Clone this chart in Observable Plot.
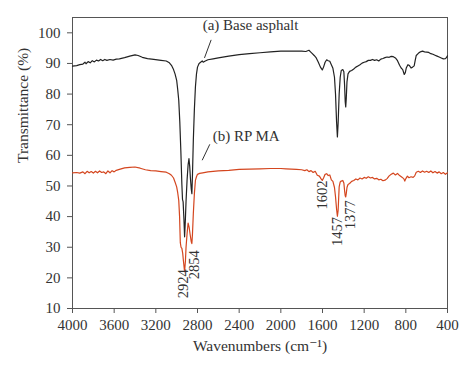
<!DOCTYPE html>
<html><head><meta charset="utf-8">
<script src="https://cdn.jsdelivr.net/npm/d3@7"></script>
<script src="https://cdn.jsdelivr.net/npm/@observablehq/plot@0.6"></script>
<style>body{margin:0;background:#fff}</style>
</head><body><div id="chart"></div>
<script>
// (a) Base asphalt
const wnBase = [4000,3960,3930,3900,3880,3870,3850,3830,3810,3790,3770,3750,3730,3710,3690,3670,3640,3610,3580,3550,3500,3450,3400,3370,3330,3280,3220,3150,3100,3070,3050,3030,3015,3000,2990,2980,2970,2960,2950,2944,2938,2930,2924,2917,2910,2900,2890,2882,2875,2868,2860,2854,2848,2840,2830,2820,2810,2800,2785,2770,2755,2745,2730,2700,2650,2600,2500,2400,2300,2200,2100,2000,1900,1800,1760,1730,1715,1700,1680,1660,1640,1620,1602,1590,1575,1560,1545,1530,1515,1500,1485,1475,1465,1457,1450,1440,1430,1420,1405,1395,1388,1382,1377,1372,1365,1355,1340,1320,1300,1280,1260,1240,1220,1200,1180,1160,1140,1120,1100,1080,1060,1040,1020,1000,980,960,940,920,900,880,860,845,830,815,805,795,780,765,750,735,720,710,700,680,660,640,620,600,580,560,540,520,500,480,460,440,420,410,400];
const tBase = [89.1,89.3,89.6,89.8,90.4,89.9,90.6,90.2,90.9,90.5,91.1,90.8,91.3,90.9,91.3,91.0,91.3,91.1,91.4,91.5,91.9,92.4,92.8,92.6,92.0,91.6,91.3,91.0,90.8,90.2,89.4,88.0,86.5,84.5,81.5,78.0,71.0,61.6,50.5,45.6,44.8,39.0,33.4,38.5,45.0,52.0,57.0,58.9,56.5,52.5,49.0,47.5,54.0,65.0,75.0,82.3,86.5,88.8,90.0,90.4,90.8,90.4,90.7,91.2,91.5,91.8,92.4,92.9,93.2,93.5,93.8,94.0,94.0,94.0,93.9,94.3,93.8,93.3,92.6,91.8,90.4,88.8,87.9,88.8,90.4,91.2,90.9,90.7,89.6,88.4,85.5,80.0,71.0,66.0,70.5,80.0,85.5,87.7,88.0,87.3,83.0,77.5,75.8,78.5,84.0,86.6,87.4,87.7,88.2,88.8,89.2,89.6,90.1,90.4,90.6,91.0,91.0,91.3,91.0,91.2,90.8,91.4,91.6,91.9,92.1,92.0,92.3,92.2,91.8,90.9,89.4,88.5,88.0,86.4,87.0,88.6,89.6,89.3,88.5,88.8,89.2,91.0,92.6,93.3,93.8,94.0,93.8,93.7,93.6,93.2,93.0,92.7,92.4,92.1,91.8,91.5,91.6,91.9,92.5];

// (b) RP MA
const wnRP = [4000,3960,3930,3900,3880,3860,3840,3820,3800,3780,3760,3740,3720,3700,3680,3660,3640,3620,3600,3580,3550,3500,3450,3400,3350,3300,3250,3200,3150,3100,3070,3050,3030,3015,3000,2990,2980,2972,2965,2958,2950,2942,2935,2924,2916,2910,2900,2890,2880,2870,2860,2854,2848,2840,2830,2820,2810,2800,2780,2750,2700,2600,2500,2400,2300,2200,2100,2000,1950,1900,1850,1800,1770,1750,1730,1710,1690,1670,1650,1630,1615,1602,1590,1575,1560,1545,1530,1515,1500,1485,1475,1465,1457,1450,1440,1430,1420,1405,1395,1388,1382,1377,1372,1365,1355,1340,1320,1300,1280,1260,1240,1220,1200,1180,1160,1140,1120,1100,1080,1060,1040,1020,1000,980,960,940,920,900,880,860,840,820,810,800,785,770,750,730,715,700,680,660,640,620,600,580,560,540,520,500,480,460,440,420,400];
const tRP = [54.3,54.4,54.2,54.6,54.0,54.8,54.3,54.7,54.2,54.8,54.3,54.9,54.4,54.6,54.0,54.9,54.3,55.0,54.6,55.1,55.4,55.9,56.1,56.2,55.8,55.3,55.0,54.9,54.7,54.5,54.0,53.5,52.6,51.2,49.7,47.8,45.3,40.0,31.5,30.0,29.6,28.0,25.5,22.0,25.5,30.0,34.5,37.9,36.5,34.0,31.8,31.2,34.5,41.0,47.5,51.8,53.0,53.8,54.1,54.3,54.6,54.9,55.1,55.4,55.5,55.6,55.7,55.7,55.6,55.5,55.4,55.3,55.0,55.3,54.7,55.0,54.4,54.8,53.5,53.2,52.4,51.8,52.6,53.8,54.0,53.4,53.6,52.0,51.5,49.5,46.5,42.5,40.1,42.0,49.7,51.3,51.6,51.8,51.0,48.5,46.8,46.4,47.5,49.5,50.5,50.8,51.5,51.8,52.3,52.0,52.6,52.3,52.8,52.5,53.0,52.6,52.8,52.3,52.5,52.0,52.2,51.7,51.9,52.4,53.3,53.8,54.2,53.6,54.1,53.4,52.9,52.4,51.6,52.4,53.2,52.7,53.0,52.8,53.3,54.5,54.8,54.4,54.9,54.5,54.8,54.4,54.9,54.3,54.7,54.2,54.6,54.0,54.4,53.8,54.3];

const xTicks = [4000,3600,3200,2800,2400,2000,1600,1200,800,400];
const yTicks = [10,20,30,40,50,60,70,80,90,100];

const peakLabels = ["2924","2854","1602","1457","1377"];
const peakX = [2931,2826,1603,1459,1331];
const peakY = [22.8,29,51.8,39.9,45.3];

const seriesNames = ["(a) Base asphalt","(b) RP MA"];
const seriesLabelX = [2291,2333];
const seriesLabelY = [102.4,66.2];
const leaderX1 = [2669,2682], leaderY1 = [97.7,63.6];
const leaderX2 = [2733,2755], leaderY2 = [91.8,58.4];

const base = wnBase.map((w,i)=>({w, t:tBase[i]}));
const rp = wnRP.map((w,i)=>({w, t:tRP[i]}));
const peaks = peakLabels.map((s,i)=>({s, x:peakX[i], y:peakY[i]}));
const names = seriesNames.map((s,i)=>({s, x:seriesLabelX[i], y:seriesLabelY[i]}));
const leaders = leaderX1.map((x1,i)=>({x1, y1:leaderY1[i], x2:leaderX2[i], y2:leaderY2[i]}));

const chart = Plot.plot({
  width:474, height:375,
  marginLeft:72, marginRight:27, marginTop:17, marginBottom:67,
  style:{fontFamily:"'Liberation Serif', 'DejaVu Serif', serif", fontSize:"15px", color:"#333", background:"#fff"},
  x:{domain:[4000,400]},
  y:{domain:[10,105]},
  marks:[
    Plot.frame({stroke:"#555", strokeWidth:1}),
    Plot.line(rp, {x:"w", y:"t", stroke:"#d4461f", strokeWidth:1.2}),
    Plot.line(base, {x:"w", y:"t", stroke:"#222", strokeWidth:1.2}),
    Plot.axisX({ticks:xTicks, tickFormat:d3.format("d"), tickSize:5, tickPadding:6, label:null, stroke:"#555", fontSize:15}),
    Plot.axisY({ticks:yTicks, tickFormat:d3.format("d"), tickSize:5, tickPadding:7, label:null, stroke:"#555", fontSize:15}),
    Plot.text(peaks, {x:"x", y:"y", text:"s", rotate:-90, textAnchor:"end", fontSize:14.5, fill:"#333"}),
    Plot.text(names, {x:"x", y:"y", text:"s", fontSize:15, fill:"#333"}),
    Plot.link(leaders, {x1:"x1", y1:"y1", x2:"x2", y2:"y2", stroke:"#333", strokeWidth:1}),
    Plot.text(["Transmittance (%)"], {frameAnchor:"left", rotate:-90, dx:-49, fontSize:15.5, fill:"#333"}),
    Plot.text(["Wavenumbers (cm\u207B\u00B9)"], {frameAnchor:"bottom", dy:42, fontSize:15.5, fill:"#333"})
  ]
});
document.getElementById("chart").appendChild(chart);
</script>
</body></html>
